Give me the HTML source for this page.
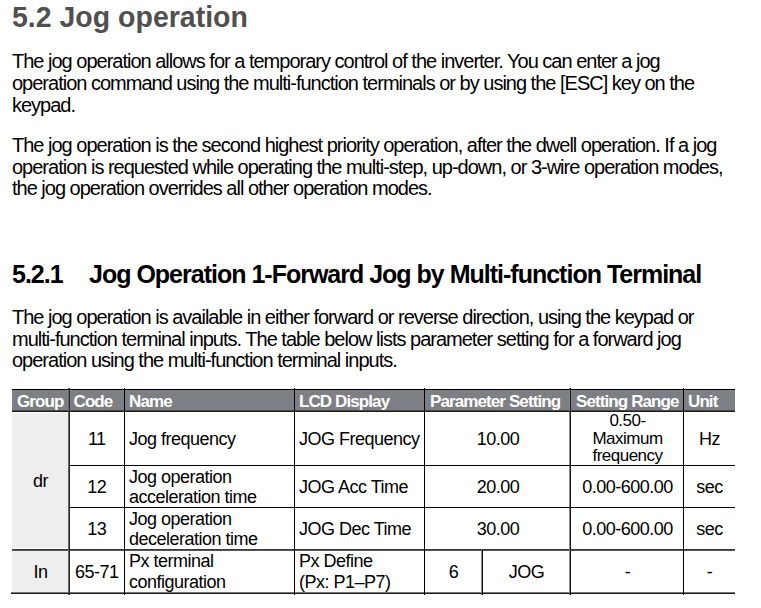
<!DOCTYPE html>
<html><head><meta charset="utf-8">
<style>
html,body{margin:0;padding:0;background:#fff;}
body{width:761px;height:608px;position:relative;overflow:hidden;font-family:"Liberation Sans",sans-serif;color:#000;}
.t{position:absolute;white-space:nowrap;line-height:1;}
.b20{font-size:20px;letter-spacing:-1px;}
.h1{font-size:29.2px;font-weight:bold;color:#505050;transform:scaleX(0.976);transform-origin:0 0;}
.h2{font-size:25px;font-weight:bold;letter-spacing:-1px;}
.th{font-size:17px;font-weight:bold;color:#fff;letter-spacing:-0.9px;}
.td{font-size:18px;letter-spacing:-0.5px;}
.c{text-align:center;}
.ln{position:absolute;background:#1a1a1a;}
.bg{position:absolute;}
</style></head><body>
<div class="t h1" style="left:12px;top:2.6px">5.2 Jog operation</div>

<div class="t b20" style="left:12px;top:51.2px">The jog operation allows for a temporary control of the inverter. You can enter a jog</div>
<div class="t b20" style="left:12px;top:72.9px">operation command using the multi-function terminals or by using the [ESC] key on the</div>
<div class="t b20" style="left:12px;top:94.7px">keypad.</div>

<div class="t b20" style="left:12px;top:135px">The jog operation is the second highest priority operation, after the dwell operation. If a jog</div>
<div class="t b20" style="left:12px;top:156.6px">operation is requested while operating the multi-step, up-down, or 3-wire operation modes,</div>
<div class="t b20" style="left:12px;top:178.2px">the jog operation overrides all other operation modes.</div>

<div class="t h2" style="left:12px;top:261.8px">5.2.1</div>
<div class="t h2" style="left:89px;top:261.8px">Jog Operation 1-Forward Jog by Multi-function Terminal</div>

<div class="t b20" style="left:12px;top:307.4px">The jog operation is available in either forward or reverse direction, using the keypad or</div>
<div class="t b20" style="left:12px;top:329px">multi-function terminal inputs. The table below lists parameter setting for a forward jog</div>
<div class="t b20" style="left:12px;top:350.4px">operation using the multi-function terminal inputs.</div>

<!-- table backgrounds -->
<div class="bg" style="left:12px;top:390px;width:723px;height:20px;background:#7e7f84"></div>
<div class="bg" style="left:12px;top:413px;width:55.5px;height:135px;background:#eeeeee"></div>
<div class="bg" style="left:12px;top:551px;width:55.5px;height:41px;background:#eeeeee"></div>

<!-- lighter partial lines -->
<div class="ln" style="left:12px;top:410px;width:723px;height:1px;background:#4a4a4a"></div>
<div class="ln" style="left:12px;top:549px;width:723px;height:1px;background:#3a3a3a"></div>
<div class="ln" style="left:12px;top:550px;width:723px;height:1px;background:#555"></div>
<div class="ln" style="left:11px;top:592px;width:724px;height:1px;background:#777"></div>
<div class="ln" style="left:68px;top:388px;width:1px;height:207px;background:#666"></div>
<div class="ln" style="left:481px;top:550px;width:1px;height:45px;background:#888"></div>
<div class="ln" style="left:569px;top:388px;width:1px;height:207px;background:#888"></div>
<!-- dark lines -->
<div class="ln" style="left:12px;top:389px;width:723px;height:1px;background:#000"></div>
<div class="ln" style="left:12px;top:411px;width:723px;height:1px;background:#1c1c1c"></div>
<div class="ln" style="left:69px;top:465px;width:666px;height:1px;background:#000"></div>
<div class="ln" style="left:69px;top:507px;width:666px;height:1px;background:#000"></div>
<div class="ln" style="left:11px;top:593px;width:724px;height:1px;background:#1a1a1a"></div>
<div class="ln" style="left:69px;top:388px;width:1px;height:207px;background:#2a2a2a"></div>
<div class="ln" style="left:124px;top:388px;width:1px;height:207px;background:#000"></div>
<div class="ln" style="left:294px;top:388px;width:1px;height:207px;background:#000"></div>
<div class="ln" style="left:424px;top:388px;width:1px;height:207px;background:#000"></div>
<div class="ln" style="left:482px;top:550px;width:1px;height:45px;background:#111"></div>
<div class="ln" style="left:570px;top:388px;width:1px;height:207px;background:#1a1a1a"></div>
<div class="ln" style="left:683px;top:388px;width:1px;height:207px;background:#000"></div>

<!-- header text -->
<div class="t th" style="left:17px;top:393px">Group</div>
<div class="t th" style="left:73.5px;top:393px">Code</div>
<div class="t th" style="left:129px;top:393px">Name</div>
<div class="t th" style="left:299px;top:393px">LCD Display</div>
<div class="t th" style="left:430px;top:393px">Parameter Setting</div>
<div class="t th" style="left:576px;top:393px">Setting Range</div>
<div class="t th" style="left:688px;top:393px">Unit</div>

<!-- body -->
<div class="t td c" style="left:12px;width:57px;top:472px">dr</div>
<div class="t td c" style="left:12px;width:57px;top:563px">In</div>

<div class="t td c" style="left:69px;width:55.5px;top:429.8px">11</div>
<div class="t td c" style="left:69px;width:55.5px;top:477.9px">12</div>
<div class="t td c" style="left:69px;width:55.5px;top:519.5px">13</div>
<div class="t td c" style="left:69px;width:55.5px;top:563px">65-71</div>

<div class="t td" style="left:129px;top:429.8px">Jog frequency</div>
<div class="t td" style="left:129px;top:468.2px">Jog operation</div>
<div class="t td" style="left:129px;top:487.9px">acceleration time</div>
<div class="t td" style="left:129px;top:509.9px">Jog operation</div>
<div class="t td" style="left:129px;top:529.7px">deceleration time</div>
<div class="t td" style="left:129px;top:552.4px">Px terminal</div>
<div class="t td" style="left:129px;top:572.9px">configuration</div>

<div class="t td" style="left:299px;top:429.8px">JOG Frequency</div>
<div class="t td" style="left:299px;top:477.9px">JOG Acc Time</div>
<div class="t td" style="left:299px;top:519.5px">JOG Dec Time</div>
<div class="t td" style="left:299px;top:552.4px">Px Define</div>
<div class="t td" style="left:299px;top:572.9px">(Px: P1–P7)</div>

<div class="t td c" style="left:425px;width:146px;top:429.8px">10.00</div>
<div class="t td c" style="left:425px;width:146px;top:477.9px">20.00</div>
<div class="t td c" style="left:425px;width:146px;top:519.5px">30.00</div>
<div class="t td c" style="left:425px;width:57px;top:563px">6</div>
<div class="t td c" style="left:482px;width:89px;top:563px">JOG</div>

<div class="t td c" style="left:571px;width:113px;top:412.3px;font-size:17px">0.50-</div>
<div class="t td c" style="left:571px;width:113px;top:430.3px;font-size:17px">Maximum</div>
<div class="t td c" style="left:571px;width:113px;top:446.5px;font-size:17px">frequency</div>
<div class="t td c" style="left:571px;width:113px;top:477.9px">0.00-600.00</div>
<div class="t td c" style="left:571px;width:113px;top:519.5px">0.00-600.00</div>
<div class="t td c" style="left:571px;width:113px;top:563px">-</div>

<div class="t td c" style="left:684px;width:51px;top:429.8px">Hz</div>
<div class="t td c" style="left:684px;width:51px;top:477.9px">sec</div>
<div class="t td c" style="left:684px;width:51px;top:519.5px">sec</div>
<div class="t td c" style="left:684px;width:51px;top:563px">-</div>
</body></html>
